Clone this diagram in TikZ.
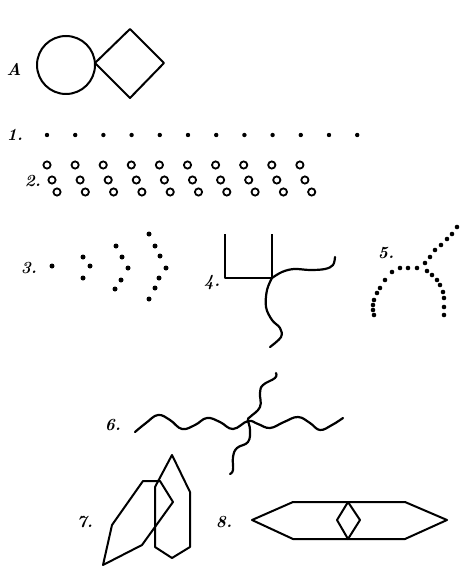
\documentclass[tikz,border=0pt]{standalone}
\begin{document}
\begin{tikzpicture}[x=1pt, y=-1pt, every node/.style={font=\fontsize{17}{20}\selectfont\bfseries\itshape}]
	\useasboundingbox (0,0) rectangle (474,567);

	% Styles
	\tikzstyle{outline} = [draw=black, line width=2pt, line join=round]
	\tikzstyle{wave_line} = [draw=black, line width=2.2pt, line cap=round]
	\tikzstyle{ring} = [draw=black, line width=1.8pt]
	\tikzstyle{item_label} = [anchor=center, inner sep=0pt]

	% Row positions
	\def\rowone{135}
	\def\rowtwo{165}

	% Figure A
	\node[item_label] (labA) at (14, 69) {A};
	\draw[outline] (66, 65) circle (29);
	\draw[outline] (95, 63) -- (130, 29) -- (164, 63) -- (130, 98) -- cycle;

	% Item 1: single row of dots
	\node[item_label] (labone) at (15, \rowone) {1.};
	\foreach \i in {0,...,11}
		\fill (47+28.2*\i, \rowone) circle (2.2);

	% Item 2: three staggered rows of rings
	\node[item_label] (labtwo) at (33, 181) {2.};
	\foreach \i in {0,...,9} {
		\draw[ring] (47+28.1*\i, \rowtwo) circle (3.6);
		\draw[ring] (52+28.1*\i, 180) circle (3.6);
		\draw[ring] (57+28.3*\i, 192) circle (3.6);
	}

	% Item 3: growing chevrons of dots
	\node[item_label] (labthree) at (29, 268) {3.};
	\foreach \x/\y in {52/266, 83/257, 90/266, 83/278,
			116/246, 122/257, 128/268, 121/280, 115/289,
			149/234, 155/246, 160/256, 166/268, 159/278, 155/288, 149/299}
		\fill (\x, \y) circle (2.5);

	% Item 4: bracket with two curves
	\node[item_label] (labfour) at (212, 283) {4.};
	\coordinate (knot) at (272, 278);
	\draw[outline] (225, 234) -- (225, 278) -- (knot) -- (272, 234);
	\draw[wave_line] plot[smooth, tension=0.6] coordinates {(272, 278) (282, 272) (294, 269) (310, 270) (325, 269) (333, 265) (335, 257)};
	\draw[wave_line] plot[smooth, tension=0.6] coordinates {(272, 278) (267, 290) (266, 307) (272, 320) (280, 328) (281, 337) (270, 347)};

	% Item 5: dotted arch with a branch
	\node[item_label] (labfive) at (386, 253) {5.};
	\foreach \x/\y in {374/315, 373/310, 373/305, 374/300, 377/293, 380/288, 385/280, 392/272, 400/268, 408/268, 417/268,
			425/263, 430/257, 435/250, 441/245, 447/239, 452/234, 457/227,
			427/271, 432/275, 437/280, 440/285, 443/292, 444/298, 444/307, 444/315}
		\fill (\x, \y) circle (2.3);

	% Item 6: crossing waves
	\node[item_label] (labsix) at (113, 425) {6.};
	\draw[wave_line] plot[smooth, tension=0.7] coordinates {(135, 432) (146, 423) (158, 415) (170, 420) (182, 429) (195, 425) (207, 418) (220, 422) (233, 429) (248, 421) (258, 424) (270, 428) (284, 422) (298, 417) (310, 423) (320, 430) (332, 425) (343, 418)};
	\draw[wave_line] plot[smooth, tension=0.7] coordinates {(276, 373) (275, 378) (263, 385) (260, 393) (260, 407) (250, 417) (248, 420) (250, 430) (248, 442) (237, 448) (233, 457) (233, 470) (230, 474)};

	% Item 7: overlapping polygons
	\node[item_label] (labseven) at (85, 522) {7.};
	\draw[outline] (103, 565) -- (112, 525) -- (143, 481) -- (160, 481) -- (173, 502) -- (142, 545) -- cycle;
	\draw[outline] (172, 455) -- (190, 492) -- (190, 547) -- (172, 558) -- (155, 547) -- (155, 487) -- cycle;

	% Item 8: long hexagon with a small diamond
	\node[item_label] (labeight) at (224, 522) {8.};
	\draw[outline] (252, 520) -- (293, 502) -- (405, 502) -- (447, 520) -- (405, 539) -- (293, 539) -- cycle;
	\draw[outline] (348, 502) -- (360, 520) -- (348, 539) -- (337, 520) -- cycle;

\end{tikzpicture}
\end{document}
